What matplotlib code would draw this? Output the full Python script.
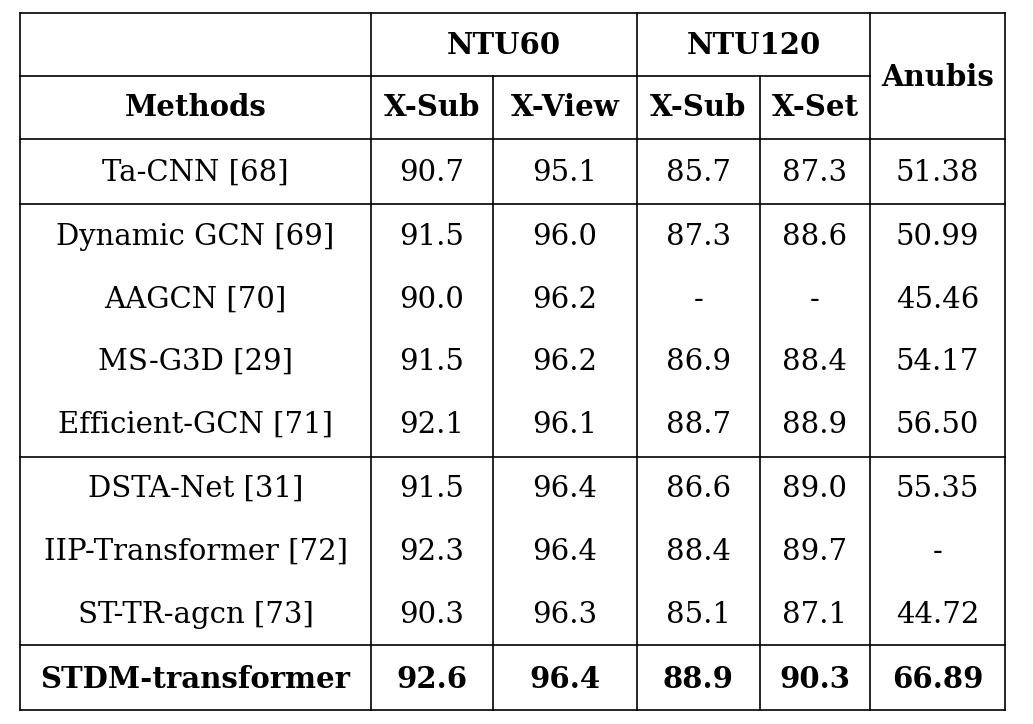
import matplotlib
matplotlib.use("Agg")
import matplotlib.pyplot as plt

methods = ["Ta-CNN [68]", "Dynamic GCN [69]", "AAGCN [70]", "MS-G3D [29]", "Efficient-GCN [71]",
           "DSTA-Net [31]", "IIP-Transformer [72]", "ST-TR-agcn [73]", "STDM-transformer"]
ntu60_xsub = ["90.7", "91.5", "90.0", "91.5", "92.1", "91.5", "92.3", "90.3", "92.6"]
ntu60_xview = ["95.1", "96.0", "96.2", "96.2", "96.1", "96.4", "96.4", "96.3", "96.4"]
ntu120_xsub = ["85.7", "87.3", "-", "86.9", "88.7", "86.6", "88.4", "85.1", "88.9"]
ntu120_xset = ["87.3", "88.6", "-", "88.4", "88.9", "89.0", "89.7", "87.1", "90.3"]
anubis = ["51.38", "50.99", "45.46", "54.17", "56.50", "55.35", "-", "44.72", "66.89"]

fig = plt.figure(figsize=(10.33, 7.24), dpi=100)
ax = fig.add_axes([0, 0, 1, 1])
ax.set_xlim(0, 1033); ax.set_ylim(724, 0); ax.axis("off")

xs = [20, 371, 493, 637, 760, 870, 1005]
top, h1, h2 = 13, 76, 139
row_c = [173, 237, 300, 362, 425, 489, 552, 615, 679]
bottom = 710
k = dict(color="black", lw=1.2)
for y in [top, h2, 204, 457, 645, bottom]:
    ax.plot([xs[0], xs[-1]], [y, y], **k)
ax.plot([xs[0], xs[5]], [h1, h1], **k)
for x in [xs[0], xs[1], xs[3], xs[5], xs[-1]]:
    ax.plot([x, x], [top, bottom], **k)
for x in [xs[2], xs[4]]:
    ax.plot([x, x], [h1, bottom], **k)

fam = "DejaVu Serif"
fs = 21
def t(x, y, s, bold=False):
    ax.text(x, y, s, ha="center", va="center", fontsize=fs, family=fam,
            fontweight="bold" if bold else "normal")

t((xs[1]+xs[3])/2, 45, "NTU60", True)
t((xs[3]+xs[5])/2, 45, "NTU120", True)
t((xs[5]+xs[6])/2, 77, "Anubis", True)
t((xs[0]+xs[1])/2, 108, "Methods", True)
for i, s in enumerate(["X-Sub", "X-View", "X-Sub", "X-Set"]):
    t((xs[i+1]+xs[i+2])/2, 108, s, True)

cols = [methods, ntu60_xsub, ntu60_xview, ntu120_xsub, ntu120_xset, anubis]
for r, y in enumerate(row_c):
    bold = r == len(row_c) - 1
    for c, col in enumerate(cols):
        t((xs[c]+xs[c+1])/2, y, col[r], bold)

fig.savefig("out.png", dpi=100)
